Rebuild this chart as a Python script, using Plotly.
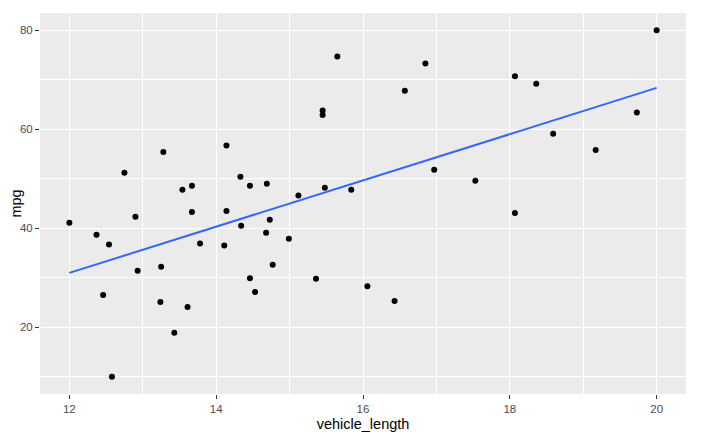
import numpy as np
import plotly.graph_objects as go

vehicle_length = [12.0, 12.37, 12.54, 12.46, 12.58, 12.75, 12.90, 12.93, 13.28, 13.25,
                  13.24, 13.43, 13.54, 13.67, 13.67, 13.61, 13.78, 14.14, 14.14, 14.11,
                  14.33, 14.34, 14.46, 14.46, 14.53, 14.69, 14.68, 14.73, 14.77, 14.99,
                  15.12, 15.48, 15.45, 15.45, 15.65, 15.36, 15.84, 16.06, 16.43, 16.57,
                  16.85, 16.97, 17.53, 18.07, 18.07, 18.36, 18.59, 19.17, 19.73, 20.0]
mpg = [41.1, 38.7, 36.7, 26.5, 10.0, 51.2, 42.3, 31.4, 55.4, 32.2,
       25.1, 18.9, 47.8, 48.6, 43.3, 24.1, 36.9, 56.7, 43.5, 36.5,
       50.4, 40.5, 48.6, 29.9, 27.1, 49.0, 39.1, 41.7, 32.6, 37.9,
       46.6, 48.2, 63.8, 62.9, 74.7, 29.8, 47.8, 28.3, 25.3, 67.8,
       73.3, 51.8, 49.6, 70.7, 43.1, 69.2, 59.1, 55.8, 63.4, 80.0]
x_ticks = [12, 14, 16, 18, 20]
x_minor = [13, 15, 17, 19]
y_ticks = [20, 40, 60, 80]
y_minor = [10, 30, 50, 70]

x = np.array(vehicle_length)
y = np.array(mpg)
slope, intercept = np.polyfit(x, y, 1)
xs = np.linspace(x.min(), x.max(), 80)
ys = intercept + slope * xs

xr = [x.min() - 0.05 * (x.max() - x.min()), x.max() + 0.05 * (x.max() - x.min())]
yr = [y.min() - 0.05 * (y.max() - y.min()), y.max() + 0.05 * (y.max() - y.min())]

fig = go.Figure()
fig.add_trace(go.Scatter(x=x, y=y, mode="markers",
                         marker=dict(color="black", size=6, line=dict(width=0)),
                         showlegend=False, hoverinfo="skip"))
fig.add_trace(go.Scatter(x=xs, y=ys, mode="lines",
                         line=dict(color="#3366FF", width=2.0),
                         showlegend=False, hoverinfo="skip"))

axis_common = dict(
    showgrid=True, gridcolor="white", gridwidth=1.1,
    zeroline=False, showline=False,
    ticks="outside", ticklen=4, tickwidth=1.1, tickcolor="#333333",
    tickfont=dict(family="Liberation Sans, Arial", size=11.5, color="#4D4D4D"),
    automargin=False,
)
fig.update_xaxes(range=xr, tickvals=x_ticks,
                 minor=dict(tickvals=x_minor, showgrid=True,
                            gridcolor="white", gridwidth=0.55, ticks=""),
                 title=dict(text="vehicle_length", standoff=5,
                            font=dict(family="Liberation Sans, Arial", size=14.5, color="black")),
                 **axis_common)
fig.update_yaxes(range=yr, tickvals=y_ticks,
                 minor=dict(tickvals=y_minor, showgrid=True,
                            gridcolor="white", gridwidth=0.55, ticks=""),
                 title=dict(text="mpg", standoff=8,
                            font=dict(family="Liberation Sans, Arial", size=14.5, color="black")),
                 **axis_common)

# the page body has an 8px default margin, so the figure is shifted by 8px
fig.update_layout(
    width=698, height=429,
    margin=dict(l=32, r=20, t=5, b=43),
    plot_bgcolor="#EBEBEB", paper_bgcolor="white",
)
fig.write_html("out.html")
